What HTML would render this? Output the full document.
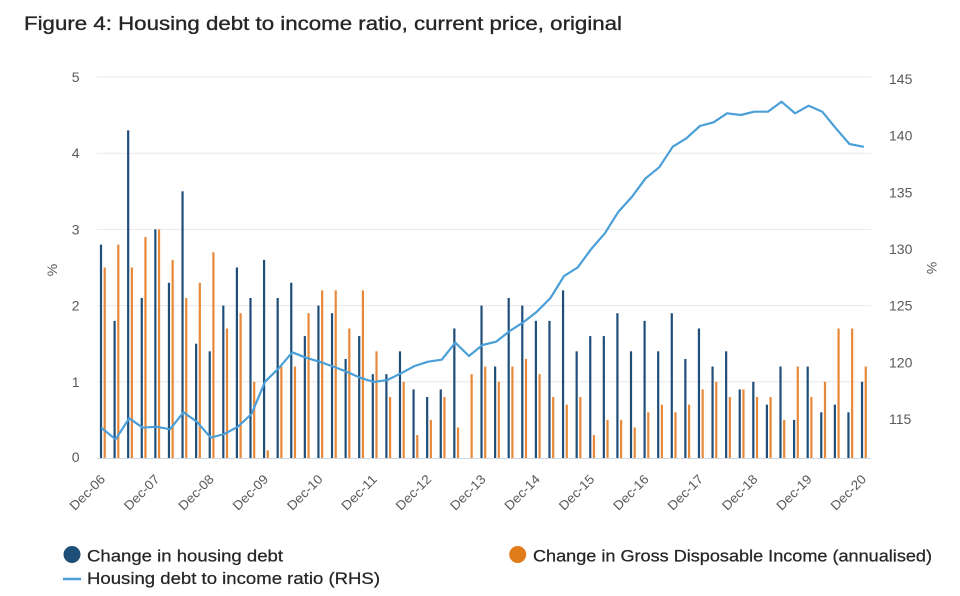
<!DOCTYPE html>
<html>
<head>
<meta charset="utf-8">
<style>
  html,body{margin:0;padding:0;background:#fff;}
  svg{display:block;}
  text{font-family:"Liberation Sans",sans-serif;}
</style>
</head>
<body>
<svg width="960" height="596" viewBox="0 0 960 596" xmlns="http://www.w3.org/2000/svg">
  <rect width="960" height="596" fill="#fff"/>
  <!-- Title -->
  <text x="24" y="30" font-size="19.5" fill="#262626" stroke="#262626" stroke-width="0.35" textLength="598" lengthAdjust="spacingAndGlyphs">Figure 4: Housing debt to income ratio, current price, original</text>

  <!-- gridlines -->
  <g stroke="#e8e8e8" stroke-width="1">
    <line x1="97" y1="77" x2="871" y2="77"/>
    <line x1="97" y1="153.2" x2="871" y2="153.2"/>
    <line x1="97" y1="229.4" x2="871" y2="229.4"/>
    <line x1="97" y1="305.6" x2="871" y2="305.6"/>
    <line x1="97" y1="381.8" x2="871" y2="381.8"/>
  </g>

  <!-- left axis labels -->
  <g font-size="14" fill="#595959" text-anchor="end">
    <text x="79.5" y="82">5</text>
    <text x="79.5" y="158.2">4</text>
    <text x="79.5" y="234.4">3</text>
    <text x="79.5" y="310.6">2</text>
    <text x="79.5" y="386.8">1</text>
    <text x="79.5" y="462">0</text>
  </g>
  <text transform="translate(57,270) rotate(-90)" font-size="14" fill="#595959" text-anchor="middle">%</text>

  <!-- right axis labels -->
  <g font-size="14" fill="#595959">
    <text x="889" y="84">145</text>
    <text x="889" y="140.7">140</text>
    <text x="889" y="197.3">135</text>
    <text x="889" y="254">130</text>
    <text x="889" y="310.6">125</text>
    <text x="889" y="367.3">120</text>
    <text x="889" y="424">115</text>
  </g>
  <text transform="translate(927,268) rotate(90)" font-size="14" fill="#595959" text-anchor="middle">%</text>

  <!-- dark bars: change in housing debt -->
  <g fill="#1f4e79" transform="matrix(1 0 0 -76.2 0 458)">
    <rect x="99.9" y="0" width="2.2" height="2.8"/>
    <rect x="113.49" y="0" width="2.2" height="1.8"/>
    <rect x="127.08" y="0" width="2.2" height="4.3"/>
    <rect x="140.67" y="0" width="2.2" height="2.1"/>
    <rect x="154.26" y="0" width="2.2" height="3.0"/>
    <rect x="167.85" y="0" width="2.2" height="2.3"/>
    <rect x="181.44" y="0" width="2.2" height="3.5"/>
    <rect x="195.03" y="0" width="2.2" height="1.5"/>
    <rect x="208.62" y="0" width="2.2" height="1.4"/>
    <rect x="222.21" y="0" width="2.2" height="2.0"/>
    <rect x="235.8" y="0" width="2.2" height="2.5"/>
    <rect x="249.39" y="0" width="2.2" height="2.1"/>
    <rect x="262.98" y="0" width="2.2" height="2.6"/>
    <rect x="276.57" y="0" width="2.2" height="2.1"/>
    <rect x="290.16" y="0" width="2.2" height="2.3"/>
    <rect x="303.75" y="0" width="2.2" height="1.6"/>
    <rect x="317.34" y="0" width="2.2" height="2.0"/>
    <rect x="330.93" y="0" width="2.2" height="1.9"/>
    <rect x="344.52" y="0" width="2.2" height="1.3"/>
    <rect x="358.11" y="0" width="2.2" height="1.6"/>
    <rect x="371.7" y="0" width="2.2" height="1.1"/>
    <rect x="385.29" y="0" width="2.2" height="1.1"/>
    <rect x="398.88" y="0" width="2.2" height="1.4"/>
    <rect x="412.47" y="0" width="2.2" height="0.9"/>
    <rect x="426.06" y="0" width="2.2" height="0.8"/>
    <rect x="439.65" y="0" width="2.2" height="0.9"/>
    <rect x="453.24" y="0" width="2.2" height="1.7"/>
    <rect x="480.42" y="0" width="2.2" height="2.0"/>
    <rect x="494.01" y="0" width="2.2" height="1.2"/>
    <rect x="507.6" y="0" width="2.2" height="2.1"/>
    <rect x="521.19" y="0" width="2.2" height="2.0"/>
    <rect x="534.78" y="0" width="2.2" height="1.8"/>
    <rect x="548.37" y="0" width="2.2" height="1.8"/>
    <rect x="561.96" y="0" width="2.2" height="2.2"/>
    <rect x="575.55" y="0" width="2.2" height="1.4"/>
    <rect x="589.14" y="0" width="2.2" height="1.6"/>
    <rect x="602.73" y="0" width="2.2" height="1.6"/>
    <rect x="616.32" y="0" width="2.2" height="1.9"/>
    <rect x="629.91" y="0" width="2.2" height="1.4"/>
    <rect x="643.5" y="0" width="2.2" height="1.8"/>
    <rect x="657.09" y="0" width="2.2" height="1.4"/>
    <rect x="670.68" y="0" width="2.2" height="1.9"/>
    <rect x="684.27" y="0" width="2.2" height="1.3"/>
    <rect x="697.86" y="0" width="2.2" height="1.7"/>
    <rect x="711.45" y="0" width="2.2" height="1.2"/>
    <rect x="725.04" y="0" width="2.2" height="1.4"/>
    <rect x="738.63" y="0" width="2.2" height="0.9"/>
    <rect x="752.22" y="0" width="2.2" height="1.0"/>
    <rect x="765.81" y="0" width="2.2" height="0.7"/>
    <rect x="779.4" y="0" width="2.2" height="1.2"/>
    <rect x="792.99" y="0" width="2.2" height="0.5"/>
    <rect x="806.58" y="0" width="2.2" height="1.2"/>
    <rect x="820.17" y="0" width="2.2" height="0.6"/>
    <rect x="833.76" y="0" width="2.2" height="0.7"/>
    <rect x="847.35" y="0" width="2.2" height="0.6"/>
    <rect x="860.94" y="0" width="2.2" height="1.0"/>
  </g>

  <!-- orange bars: change in GDI -->
  <g fill="#e8893a" transform="matrix(1 0 0 -76.2 0 458)">
    <rect x="103.6" y="0" width="2.2" height="2.5"/>
    <rect x="117.19" y="0" width="2.2" height="2.8"/>
    <rect x="130.78" y="0" width="2.2" height="2.5"/>
    <rect x="144.37" y="0" width="2.2" height="2.9"/>
    <rect x="157.96" y="0" width="2.2" height="3.0"/>
    <rect x="171.55" y="0" width="2.2" height="2.6"/>
    <rect x="185.14" y="0" width="2.2" height="2.1"/>
    <rect x="198.73" y="0" width="2.2" height="2.3"/>
    <rect x="212.32" y="0" width="2.2" height="2.7"/>
    <rect x="225.91" y="0" width="2.2" height="1.7"/>
    <rect x="239.5" y="0" width="2.2" height="1.9"/>
    <rect x="253.09" y="0" width="2.2" height="1.0"/>
    <rect x="266.68" y="0" width="2.2" height="0.1"/>
    <rect x="280.27" y="0" width="2.2" height="1.2"/>
    <rect x="293.86" y="0" width="2.2" height="1.2"/>
    <rect x="307.45" y="0" width="2.2" height="1.9"/>
    <rect x="321.04" y="0" width="2.2" height="2.2"/>
    <rect x="334.63" y="0" width="2.2" height="2.2"/>
    <rect x="348.22" y="0" width="2.2" height="1.7"/>
    <rect x="361.81" y="0" width="2.2" height="2.2"/>
    <rect x="375.4" y="0" width="2.2" height="1.4"/>
    <rect x="388.99" y="0" width="2.2" height="0.8"/>
    <rect x="402.58" y="0" width="2.2" height="1.0"/>
    <rect x="416.17" y="0" width="2.2" height="0.3"/>
    <rect x="429.76" y="0" width="2.2" height="0.5"/>
    <rect x="443.35" y="0" width="2.2" height="0.8"/>
    <rect x="456.94" y="0" width="2.2" height="0.4"/>
    <rect x="470.53" y="0" width="2.2" height="1.1"/>
    <rect x="484.12" y="0" width="2.2" height="1.2"/>
    <rect x="497.71" y="0" width="2.2" height="1.0"/>
    <rect x="511.3" y="0" width="2.2" height="1.2"/>
    <rect x="524.89" y="0" width="2.2" height="1.3"/>
    <rect x="538.48" y="0" width="2.2" height="1.1"/>
    <rect x="552.07" y="0" width="2.2" height="0.8"/>
    <rect x="565.66" y="0" width="2.2" height="0.7"/>
    <rect x="579.25" y="0" width="2.2" height="0.8"/>
    <rect x="592.84" y="0" width="2.2" height="0.3"/>
    <rect x="606.43" y="0" width="2.2" height="0.5"/>
    <rect x="620.02" y="0" width="2.2" height="0.5"/>
    <rect x="633.61" y="0" width="2.2" height="0.4"/>
    <rect x="647.2" y="0" width="2.2" height="0.6"/>
    <rect x="660.79" y="0" width="2.2" height="0.7"/>
    <rect x="674.38" y="0" width="2.2" height="0.6"/>
    <rect x="687.97" y="0" width="2.2" height="0.7"/>
    <rect x="701.56" y="0" width="2.2" height="0.9"/>
    <rect x="715.15" y="0" width="2.2" height="1.0"/>
    <rect x="728.74" y="0" width="2.2" height="0.8"/>
    <rect x="742.33" y="0" width="2.2" height="0.9"/>
    <rect x="755.92" y="0" width="2.2" height="0.8"/>
    <rect x="769.51" y="0" width="2.2" height="0.8"/>
    <rect x="783.1" y="0" width="2.2" height="0.5"/>
    <rect x="796.69" y="0" width="2.2" height="1.2"/>
    <rect x="810.28" y="0" width="2.2" height="0.8"/>
    <rect x="823.87" y="0" width="2.2" height="1.0"/>
    <rect x="837.46" y="0" width="2.2" height="1.7"/>
    <rect x="851.05" y="0" width="2.2" height="1.7"/>
    <rect x="864.64" y="0" width="2.2" height="1.2"/>
  </g>

  <!-- x axis line -->
  <line x1="97" y1="458.5" x2="871" y2="458.5" stroke="#cfd9e4" stroke-width="1"/>

  <!-- ratio line (RHS) -->
  <polyline fill="none" stroke="#4a9fd8" stroke-width="2.2" stroke-linejoin="round" stroke-linecap="round"
    points="102,428.3 115.59,439.3 129.18,418.3 142.77,427.7 156.36,426.7 169.95,429.3 183.54,412.3 197.13,422 210.72,437.7 224.31,434 237.9,426.7 251.49,414 265.08,381.7 278.67,368.3 292.26,352.3 305.85,357.7 319.44,361.7 333.03,366.5 346.62,371.7 360.21,377.7 373.8,382 387.39,380 400.98,373.3 414.57,366 428.16,361.7 441.75,359.7 455.34,342.7 468.93,356 482.52,345 496.11,341.7 509.7,331 523.29,322.3 536.88,311.7 550.47,298 564.06,276 577.65,267.5 591.24,249 604.83,233.3 618.42,211.7 632.01,196.7 645.6,178.3 659.19,167.3 672.78,146.7 686.37,138.3 699.96,126 713.55,122.3 727.14,113.3 740.73,115 754.32,111.7 767.91,111.7 781.5,101.7 795.09,113.3 808.68,105.7 822.27,111.7 835.86,128.3 849.45,144 863.04,146.7"/>

  <!-- x tick labels -->
  <g font-size="13" fill="#595959" text-anchor="end">
    <text transform="translate(106,480) rotate(-45)" textLength="44" lengthAdjust="spacingAndGlyphs">Dec-06</text>
    <text transform="translate(160.36,480) rotate(-45)" textLength="44" lengthAdjust="spacingAndGlyphs">Dec-07</text>
    <text transform="translate(214.72,480) rotate(-45)" textLength="44" lengthAdjust="spacingAndGlyphs">Dec-08</text>
    <text transform="translate(269.08,480) rotate(-45)" textLength="44" lengthAdjust="spacingAndGlyphs">Dec-09</text>
    <text transform="translate(323.44,480) rotate(-45)" textLength="44" lengthAdjust="spacingAndGlyphs">Dec-10</text>
    <text transform="translate(377.8,480) rotate(-45)" textLength="44" lengthAdjust="spacingAndGlyphs">Dec-11</text>
    <text transform="translate(432.16,480) rotate(-45)" textLength="44" lengthAdjust="spacingAndGlyphs">Dec-12</text>
    <text transform="translate(486.52,480) rotate(-45)" textLength="44" lengthAdjust="spacingAndGlyphs">Dec-13</text>
    <text transform="translate(540.88,480) rotate(-45)" textLength="44" lengthAdjust="spacingAndGlyphs">Dec-14</text>
    <text transform="translate(595.24,480) rotate(-45)" textLength="44" lengthAdjust="spacingAndGlyphs">Dec-15</text>
    <text transform="translate(649.6,480) rotate(-45)" textLength="44" lengthAdjust="spacingAndGlyphs">Dec-16</text>
    <text transform="translate(703.96,480) rotate(-45)" textLength="44" lengthAdjust="spacingAndGlyphs">Dec-17</text>
    <text transform="translate(758.32,480) rotate(-45)" textLength="44" lengthAdjust="spacingAndGlyphs">Dec-18</text>
    <text transform="translate(812.68,480) rotate(-45)" textLength="44" lengthAdjust="spacingAndGlyphs">Dec-19</text>
    <text transform="translate(867.04,480) rotate(-45)" textLength="44" lengthAdjust="spacingAndGlyphs">Dec-20</text>
  </g>

  <!-- legend -->
  <circle cx="72" cy="554.5" r="8.5" fill="#1f4e79"/>
  <text x="87" y="561.7" font-size="17" fill="#262626" stroke="#262626" stroke-width="0.25" textLength="196" lengthAdjust="spacingAndGlyphs">Change in housing debt</text>
  <circle cx="517.7" cy="554.5" r="8.5" fill="#e07b1a"/>
  <text x="533" y="561.7" font-size="17" fill="#262626" stroke="#262626" stroke-width="0.25" textLength="399" lengthAdjust="spacingAndGlyphs">Change in Gross Disposable Income (annualised)</text>
  <line x1="63" y1="579" x2="81" y2="579" stroke="#4a9fd8" stroke-width="2.5"/>
  <text x="87" y="584" font-size="17" fill="#262626" stroke="#262626" stroke-width="0.25" textLength="293" lengthAdjust="spacingAndGlyphs">Housing debt to income ratio (RHS)</text>
</svg>
</body>
</html>
